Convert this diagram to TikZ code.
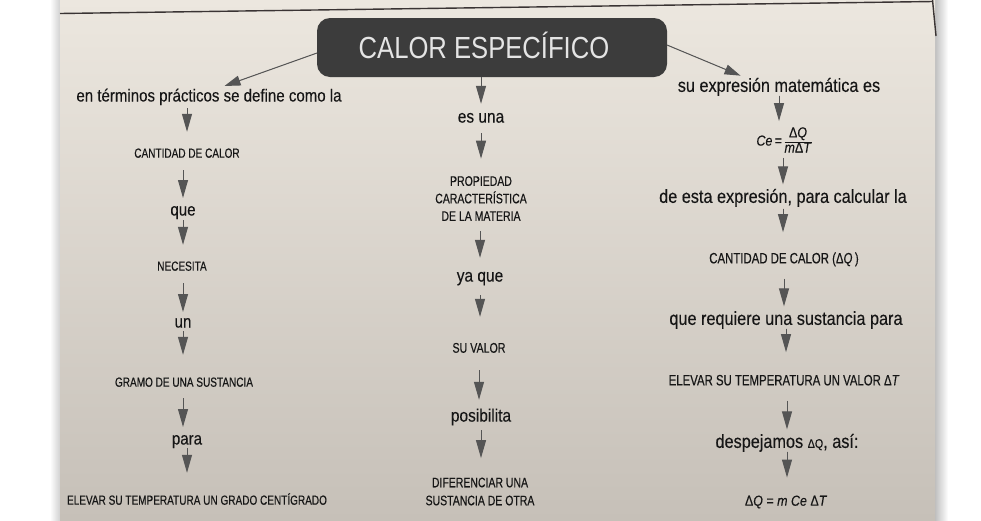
\documentclass[tikz,border=0pt]{standalone}
\usepackage{fontspec}
\setmainfont{Liberation Sans}[FakeStretch=0.86,FakeBold=0.2]
\newfontfamily\capsfont{Liberation Sans}[FakeStretch=0.76,FakeBold=0.35]
\newfontfamily\titlefont{Liberation Sans}[FakeStretch=0.84]
\usetikzlibrary{arrows.meta}
\definecolor{paperT}{HTML}{ECE7DF}
\definecolor{paperB}{HTML}{C6C0B8}
\definecolor{ink}{HTML}{161616}
\definecolor{arrc}{HTML}{555555}
\definecolor{boxc}{HTML}{3C3C3C}
\definecolor{titc}{HTML}{E4E4E4}
\definecolor{rulec}{HTML}{3A3434}
\begin{document}
\begin{tikzpicture}[x=1pt,y=-1pt,
  every node/.style={inner sep=0pt, outer sep=0pt, text=ink},
  lowL/.style={font=\fontsize{17.5}{20}\selectfont, text height=12.5pt, text depth=3.5pt},
  lowC/.style={font=\fontsize{18}{20}\selectfont, text height=12.8pt, text depth=3.6pt},
  lowR/.style={font=\fontsize{18.9}{21}\selectfont, text height=13.5pt, text depth=3.8pt},
  upL/.style={font=\capsfont\fontsize{13.2}{17.5}\selectfont, text height=9.4pt, text depth=0pt},
  upC/.style={font=\capsfont\fontsize{13.8}{17.5}\selectfont, align=center},
  upR/.style={font=\capsfont\fontsize{15}{17}\selectfont, text height=10.7pt, text depth=0pt},
  formula/.style={font=\fontsize{14.5}{15.5}\selectfont},
  eqn/.style={font=\fontsize{14.5}{16}\selectfont},
  titlebox/.style={fill=boxc, rounded corners=13pt, minimum width=350pt, minimum height=59pt,
    text=titc, font=\titlefont\fontsize{30.5}{32}\selectfont, text height=22pt, text depth=0pt},
  arr/.style={draw=arrc, fill=arrc, line width=1pt, -{Triangle[length=18pt,width=10pt]}},
  darr/.style={draw=arrc, fill=arrc, line width=1pt, -{Triangle[length=16pt,width=10pt]}}
]
\useasboundingbox (0,0) rectangle (981,520);
\fill[white] (0,0) rectangle (981,520);
% page shadow and paper
\shade[left color=white, right color=black!18] (50,0) rectangle (60,520);
\shade[left color=black!25, right color=white] (935,0) rectangle (948,520);
\shade[top color=paperT, bottom color=paperB] (60,0) rectangle (935,520);
\draw[rulec, line width=1.4pt] (60,13.5) -- (933,1.5);
\draw[rulec, line width=1.4pt] (932.5,0) -- (936,36);

% title
\node[titlebox] (title) at (492,47.5) {CALOR ESPECÍFICO\hspace*{16pt}};

% left column
\node[lowL] (L1) at (209,97) {en términos prácticos se define como la};
\node[upL]  (L2) at (187,153) {CANTIDAD DE CALOR};
\node[lowL] (L3) at (183,211) {que};
\node[upL]  (L4) at (182,266) {NECESITA};
\node[lowL] (L5) at (183,323) {un};
\node[upL]  (L6) at (184,382) {GRAMO DE UNA SUSTANCIA};
\node[lowL] (L7) at (187,440) {para};
\node[upL]  (L8) at (197,500) {ELEVAR SU TEMPERATURA UN GRADO CENTÍGRADO};

% center column
\node[lowC] (C1) at (481,118) {es una};
\node[upC]  (C2) at (481,198.5) {PROPIEDAD\\CARACTERÍSTICA\\DE LA MATERIA};
\node[lowC] (C3) at (480,277) {ya que};
\node[upL,font=\capsfont\fontsize{14}{17}\selectfont]  (C4) at (479,348) {SU VALOR};
\node[lowC] (C5) at (481,417) {posibilita};
\node[upC,font=\capsfont\fontsize{13.8}{18}\selectfont] (C6) at (480,491.5) {DIFERENCIAR UNA\\SUSTANCIA DE OTRA};

% right column
\node[lowR] (R1) at (779,87) {su expresión matemática es};
\node[formula] (R2) at (784,142) {\textit{Ce}\,=\,\renewcommand\arraystretch{0.95}\begin{tabular}{@{}c@{}}Δ\textit{Q}\\\hline \textit{m}Δ\textit{T}\end{tabular}};
\node[lowR] (R3) at (783,198) {de esta expresión, para calcular la};
\node[upR]  (R4) at (784,258) {CANTIDAD DE CALOR (Δ\textit{Q}\,)};
\node[lowR] (R5) at (786,320) {que requiere una sustancia para};
\node[upR]  (R6) at (784,380) {ELEVAR SU TEMPERATURA UN VALOR Δ\textit{T}};
\node[lowR] (R7) at (787,443) {despejamos {\fontsize{12.5}{14}\selectfont ΔQ}, así:};
\node[eqn]  (R8) at (786,502) {Δ\textit{Q} = \textit{m Ce} Δ\textit{T}};

% connectors from title
\draw[darr, shorten >=9pt] ([yshift=-5.5pt]title.west) -- ([xshift=7pt]L1.north);
\draw[darr, shorten >=7pt] ([yshift=2.5pt]title.east) -- ([xshift=-32pt]R1.north);
\draw[arr, shorten >=6pt] (title.south -| C1.north) -- (C1.north);

% left connectors
\draw[arr, shorten <=3pt, shorten >=16.5pt] (L1.south -| L2.north) -- (L2.north);
\draw[arr, shorten <=12.5pt, shorten >=5pt] (L2.south -| L3.north) -- (L3.north);
\draw[arr, shorten <=1pt, shorten >=16.5pt] (L3.south) -- (L3.south |- L4.north);
\draw[arr, shorten <=12.5pt, shorten >=3pt] (L4.south -| L5.north) -- (L5.north);
\draw[arr, shorten <=0pt, shorten >=22.5pt] (L5.south) -- (L5.south |- L6.north);
\draw[arr, shorten <=11.5pt, shorten >=5pt] (L6.south -| L5.south) -- (L5.south |- L7.north);
\draw[arr, shorten <=0pt, shorten >=22.5pt] (L7.south) -- (L7.south |- L8.north);

% center connectors
\draw[arr, shorten <=7pt, shorten >=17.5pt] (C1.south) -- (C1.south |- C2.north);
\draw[arr, shorten <=10.5pt, shorten >=11pt] (C2.south -| C3.north) -- (C3.north);
\draw[arr, shorten <=10pt, shorten >=26.5pt] (C3.south) -- (C3.south |- C4.north);
\draw[arr, shorten <=17.5pt, shorten >=9pt] (C4.south) -- (C4.south |- C5.north);
\draw[arr, shorten <=5pt, shorten >=19.5pt] (C5.south) -- (C5.south |- C6.north);

% right connectors
\draw[arr, shorten <=0pt, shorten >=6pt] (R1.south) -- (R1.south |- R2.north);
\draw[arr, shorten <=1pt, shorten >=5pt] (R2.south -| R3.north) -- (R3.north);
\draw[arr, shorten <=2pt, shorten >=20.5pt] (R3.south) -- (R3.south |- R4.north);
\draw[arr, shorten <=15.5pt, shorten >=5pt] (R4.south) -- (R4.south |- R5.north);
\draw[arr, shorten <=0pt, shorten >=22.5pt] (R5.south) -- (R5.south |- R6.north);
\draw[arr, shorten <=15.5pt, shorten >=5pt] (R6.south -| R7.north) -- (R7.north);
\draw[arr, shorten <=0pt, shorten >=18pt] (R7.south) -- (R7.south |- R8.north);
\end{tikzpicture}
\end{document}
